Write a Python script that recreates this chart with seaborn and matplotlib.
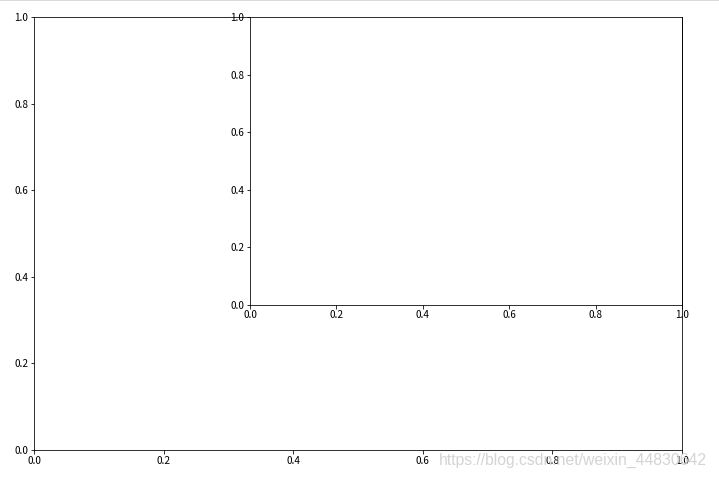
import matplotlib
matplotlib.use("Agg")
import matplotlib.pyplot as plt
from matplotlib.lines import Line2D
import seaborn as sns

# both axes are empty, limits 0..1 with ticks every 0.2
ticks = [0.0, 0.2, 0.4, 0.6, 0.8, 1.0]
tick_labels = ["0.0", "0.2", "0.4", "0.6", "0.8", "1.0"]
watermark = "https://blog.csdn.net/weixin_44830642"

sns.set_style("ticks", {"axes.edgecolor": "black",
                        "xtick.color": "black", "ytick.color": "black"})
plt.rcParams["font.family"] = ["Noto Sans CJK SC", "DejaVu Sans"]
plt.rcParams["font.size"] = 10

fig = plt.figure(figsize=(719 / 72, 478 / 72), dpi=72)

ax1 = fig.add_axes([34 / 719, 28 / 478, 648 / 719, 433 / 478])
ax2 = fig.add_axes([250 / 719, 173 / 478, 432 / 719, 288 / 478])

for ax in (ax1, ax2):
    ax.set_xlim(0, 1)
    ax.set_ylim(0, 1)
    ax.set_xticks(ticks)
    ax.set_xticklabels(tick_labels)
    ax.set_yticks(ticks)
    ax.set_yticklabels(tick_labels)
    ax.tick_params(length=3.5, width=0.8, labelsize=10, pad=2)
    for s in ax.spines.values():
        s.set_linewidth(0.8)

# screenshot border at the top
fig.add_artist(Line2D([0, 1], [0.999, 0.999], transform=fig.transFigure,
                      color="#d0d0d0", lw=1.5))

fig.text(439 / 719, 18 / 478, watermark, ha="left", va="center",
         fontsize=15.8, color="#d4d4d4", family=["Liberation Sans", "DejaVu Sans"],
         zorder=10)

fig.savefig("out.png", dpi=72)
plt.close(fig)
